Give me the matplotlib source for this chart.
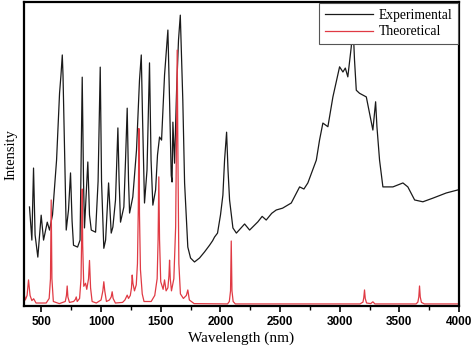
import numpy as np
import matplotlib.pyplot as plt
from matplotlib.ticker import MultipleLocator

# measured spectrum (wavelength in nm, intensity in a.u.)
exp_nm = [400, 420, 434, 447, 470, 498, 518, 549, 568, 593, 627, 652, 664, 675, 681,
          694, 708, 727, 744, 757, 769, 803, 824, 842, 853, 861, 889, 903, 918, 954,
          975, 993, 1004, 1023, 1038, 1063, 1085, 1099, 1121, 1141, 1151, 1163, 1191,
          1205, 1219, 1230, 1239, 1266, 1297, 1322, 1337, 1348, 1364, 1385, 1406, 1419,
          1434, 1457, 1473, 1490, 1507, 1532, 1560, 1574, 1588, 1595, 1602, 1616, 1633,
          1649, 1664, 1675, 1685, 1700, 1727, 1750, 1783, 1825, 1867, 1909, 1935, 1951,
          1976, 2001, 2021, 2035, 2052, 2064, 2077, 2105, 2134, 2203, 2245, 2314, 2350,
          2384, 2430, 2468, 2521, 2594, 2664, 2700, 2733, 2804, 2831, 2859, 2901, 2943,
          2974, 2999, 3027, 3047, 3068, 3097, 3110, 3124, 3139, 3166, 3223, 3250, 3278,
          3292, 3301, 3312, 3334, 3362, 3446, 3485, 3530, 3571, 3628, 3697, 3781, 3893,
          3990]
exp_int = [32.6, 21.7, 45.4, 23.4, 16.1, 29.9, 21.7, 27.6, 25.0, 30.0, 48.0, 70.0, 76.0,
           82.6, 76.0, 51.0, 25.0, 31.6, 43.8, 28.0, 20.0, 19.4, 21.7, 75.3, 41.0, 25.7,
           47.4, 30.0, 25.0, 24.3, 41.0, 78.6, 41.0, 19.0, 21.7, 40.5, 24.0, 26.0, 34.9,
           58.6, 41.4, 27.6, 32.6, 48.0, 65.1, 41.4, 30.6, 35.9, 51.3, 74.3, 82.6, 61.2,
           33.9, 44.7, 80.0, 48.0, 33.2, 38.2, 49.7, 55.6, 54.6, 76.0, 90.8, 67.8, 43.0,
           40.8, 60.5, 47.0, 71.0, 87.5, 95.7, 81.0, 67.8, 40.5, 19.4, 15.8, 14.5, 15.8,
           17.8, 20.0, 21.5, 22.7, 24.0, 30.0, 36.5, 48.0, 57.2, 44.7, 34.9, 25.7, 24.0,
           27.0, 25.0, 27.7, 29.5, 28.3, 30.5, 31.6, 32.2, 33.9, 39.2, 38.5, 40.5, 48.0,
           54.6, 60.2, 59.0, 68.8, 74.3, 78.7, 77.0, 78.3, 75.4, 85.3, 94.0, 81.0, 71.0,
           70.0, 68.8, 63.5, 57.9, 63.5, 67.2, 59.0, 48.0, 39.2, 39.2, 39.8, 40.5, 39.2,
           34.9, 34.3, 35.5, 37.2, 38.2]

# calculated spectrum
th_nm = [350, 365, 380, 392, 405, 420, 435, 455, 540, 565, 576, 582, 588, 600, 650,
         700, 710, 716, 722, 735, 770, 785, 792, 800, 820, 832, 838, 842, 846, 855,
         870, 880, 895, 903, 912, 925, 960, 1000, 1015, 1023, 1031, 1045, 1070, 1085,
         1093, 1101, 1120, 1180, 1200, 1219, 1230, 1245, 1255, 1261, 1267, 1280, 1295,
         1305, 1312, 1317, 1322, 1330, 1345, 1360, 1420, 1450, 1470, 1478, 1484, 1490,
         1500, 1520, 1532, 1545, 1560, 1569, 1574, 1580, 1590, 1610, 1625, 1632, 1638,
         1644, 1652, 1665, 1690, 1715, 1727, 1740, 1780, 2060, 2075, 2085, 2091, 2097,
         2107, 2125, 3170, 3195, 3202, 3208, 3214, 3225, 3260, 3278, 3295, 3640, 3655,
         3663, 3669, 3675, 3685, 3710, 4000]
th_int = [5.0, 2.0, 3.5, 8.6, 3.5, 1.8, 2.4, 1.0, 1.0, 2.5, 9.0, 34.9, 9.0, 1.5, 0.8,
          1.5, 3.5, 6.6, 3.0, 1.2, 1.5, 2.2, 3.0, 1.5, 2.5, 9.0, 24.0, 38.5, 20.0, 6.5,
          7.5, 5.5, 9.0, 15.0, 6.0, 1.5, 1.0, 2.0, 5.0, 8.0, 5.0, 1.5, 2.0, 3.0, 4.7,
          2.5, 1.0, 1.2, 2.0, 3.6, 2.5, 3.5, 6.0, 10.2, 7.5, 5.0, 7.0, 14.0, 32.0, 58.4,
          30.0, 12.0, 4.0, 1.5, 1.5, 3.5, 9.0, 22.0, 42.5, 22.0, 8.0, 5.5, 8.6, 5.0, 6.0,
          10.0, 15.1, 9.0, 5.0, 9.0, 26.0, 55.0, 84.2, 50.0, 14.0, 4.0, 2.5, 3.5, 5.3,
          2.0, 0.8, 0.7, 1.5, 5.0, 21.4, 5.0, 1.5, 0.7, 0.7, 1.3, 2.8, 5.3, 2.5, 1.0,
          0.8, 1.4, 0.7, 0.7, 1.3, 3.0, 6.6, 3.0, 1.2, 0.7, 0.7]

fig = plt.figure(figsize=(4.74, 3.47), dpi=100)
ax = fig.add_axes([0.0496, 0.118, 0.9188, 0.876])

ax.plot(exp_nm, exp_int, color='#1a1a1a', lw=0.9, label='Experimental')
ax.plot(th_nm, th_int, color='#e03a44', lw=0.9, label='Theoretical')

ax.set_xlim(350, 4000)
ax.set_ylim(0, 100)
ax.xaxis.set_major_locator(MultipleLocator(500))
ax.xaxis.set_minor_locator(MultipleLocator(250))
ax.set_yticks([])
ax.tick_params(axis='x', which='major', direction='out', length=4, width=1.2)
ax.tick_params(axis='x', which='minor', direction='out', length=3, width=1.0)
for lab in ax.get_xticklabels():
    lab.set_fontfamily('Liberation Sans')
    lab.set_fontweight('bold')
    lab.set_fontsize(8.5)
for sp in ax.spines.values():
    sp.set_linewidth(1.6)

ax.set_xlabel('Wavelength (nm)', fontfamily='Liberation Serif', fontsize=11, labelpad=2)
ax.set_ylabel('Intensity', fontfamily='Liberation Serif', fontsize=10.5, labelpad=4)

leg = ax.legend(loc='upper right', borderaxespad=0.05, fancybox=False,
                prop={'family': 'Liberation Serif', 'size': 9.8},
                handlelength=3.5, handletextpad=0.4, borderpad=0.45, labelspacing=0.25,
                framealpha=1)
leg.get_frame().set_edgecolor('#555555')
leg.get_frame().set_linewidth(0.8)

fig.savefig('out.png', dpi=100)
